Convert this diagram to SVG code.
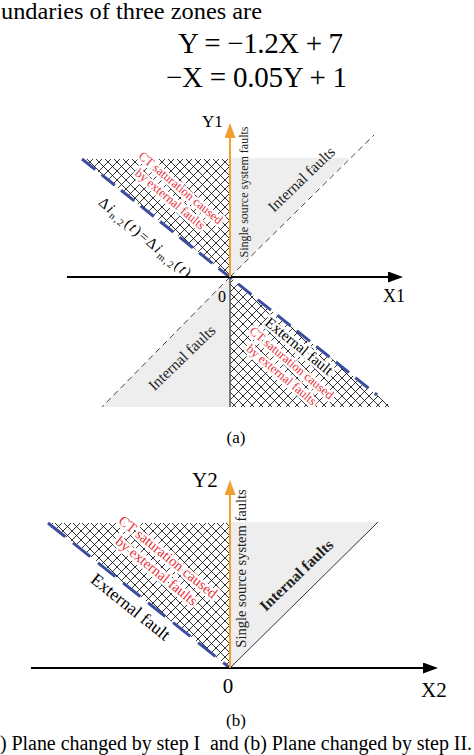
<svg xmlns="http://www.w3.org/2000/svg" width="474" height="755" viewBox="0 0 474 755">
<style>
text{font-family:"Liberation Serif","Times New Roman",serif;fill:#000}
.red{fill:#e8323c}
.dark{fill:#222}
.halo{stroke:#fff;stroke-width:5;stroke-linejoin:round;paint-order:stroke}
.ax{stroke:#000;stroke-width:2;fill:none}
.oy{stroke:#f0a030;stroke-width:2;fill:none}
.blueA{stroke:#3a4d9e;stroke-width:3;fill:none;stroke-dasharray:17 8}
.blueB{stroke:#3a4d9e;stroke-width:3;fill:none;stroke-dasharray:22 10}
.shade{fill:#eeeeee}
.gd{stroke:#444;stroke-width:1;stroke-dasharray:6 4;fill:none}
.hatch{fill:url(#hatch)}
</style>
<defs>
<pattern id="hatch" width="9" height="9" patternUnits="userSpaceOnUse">
<path d="M0,0L9,9M9,0L0,9" stroke="#000" stroke-width="0.8"/>
</pattern>
<marker id="arrK" viewBox="0 0 15 11" refX="1" refY="5.5" markerWidth="15" markerHeight="11" markerUnits="userSpaceOnUse" orient="auto">
<path d="M0,0L15,5.5L0,11Z" fill="#000"/>
</marker>
<marker id="arrO" viewBox="0 0 15 11" refX="1" refY="5.5" markerWidth="15" markerHeight="11" markerUnits="userSpaceOnUse" orient="auto">
<path d="M0,0L15,5.5L0,11Z" fill="#f0a030"/>
</marker>
</defs>
<rect width="474" height="755" fill="#fff"/>

<g id="header">
<text x="1" y="19" font-size="23" textLength="261" lengthAdjust="spacingAndGlyphs">undaries of three zones are</text>
<text x="178" y="53" font-size="29" textLength="165">Y = −1.2X + 7</text>
<text x="166" y="87" font-size="29" textLength="181">−X = 0.05Y + 1</text>
</g>

<g id="panel-a">
<path class="shade" d="M230,277L349,158L230,158Z"/>
<path class="shade" d="M230,277L102,407L230,407Z"/>
<path class="hatch" d="M82,159L230,159L230,277Z"/>
<path class="hatch" d="M230,277L392,407L230,407Z"/>
<path class="gd" d="M230,277L374,135M230,277L102,407"/>
<path d="M230,277L230,407" stroke="#555" stroke-width="1.5"/>
<text class="dark" transform="translate(248,192) rotate(-90)" text-anchor="middle" font-size="12">Single source system faults</text>
<text class="dark" transform="translate(305,183) rotate(-44)" text-anchor="middle" font-size="15.5">Internal faults</text>
<text class="dark" transform="translate(185.5,361.5) rotate(-44)" text-anchor="middle" font-size="15.5">Internal faults</text>
<text class="red halo" transform="translate(178,191) rotate(40)" text-anchor="middle" font-size="12.5">CT saturation caused</text>
<text class="red halo" transform="translate(167.6,202.3) rotate(40)" text-anchor="middle" font-size="12.5">by external faults</text>
<text transform="translate(142,241) rotate(40)" text-anchor="middle" font-size="15" textLength="116">Δ<tspan font-style="italic">i</tspan><tspan font-size="10" dy="3">n,2</tspan><tspan dy="-3">(</tspan><tspan font-style="italic">t</tspan>)=Δ<tspan font-style="italic">i</tspan><tspan font-size="10" dy="3">m,2</tspan><tspan dy="-3">(</tspan><tspan font-style="italic">t</tspan>)</text>
<text class="halo" transform="translate(296,350) rotate(39)" text-anchor="middle" font-size="15">External fault</text>
<text class="red halo" transform="translate(289,366) rotate(40)" text-anchor="middle" font-size="12.5">CT saturation caused</text>
<text class="red halo" transform="translate(279,378) rotate(40)" text-anchor="middle" font-size="12.5">by external faults</text>
<path class="blueA" d="M82,159L377,395"/>
<path class="ax" d="M67,277L389,277" marker-end="url(#arrK)"/>
<path class="oy" d="M230,277L230,137" marker-end="url(#arrO)"/>
<text x="202" y="127" font-size="17">Y1</text>
<text x="383" y="302" font-size="18">X1</text>
<text x="222" y="302" font-size="16" text-anchor="middle">0</text>
<text x="236" y="443" font-size="17" text-anchor="middle">(a)</text>
</g>

<g id="panel-b">
<path class="shade" d="M230,668L378,522L230,522Z"/>
<path class="hatch" d="M48,523L230,523L230,668Z"/>
<path d="M230,668L378,522" stroke="#333" stroke-width="1" fill="none"/>
<text class="dark" transform="translate(246,568.5) rotate(-90)" text-anchor="middle" font-size="14.5">Single source system faults</text>
<text class="dark" transform="translate(300,579) rotate(-44)" text-anchor="middle" font-size="15.5" font-weight="bold">Internal faults</text>
<text class="red halo" transform="translate(165,560.6) rotate(39)" text-anchor="middle" font-size="14.5">CT saturation caused</text>
<text class="red halo" transform="translate(153.5,574.6) rotate(39)" text-anchor="middle" font-size="14.5">by external faults</text>
<text transform="translate(127,611.4) rotate(38.5)" text-anchor="middle" font-size="17.5">External fault</text>
<path class="blueB" d="M48,523L230,668"/>
<path class="ax" d="M31,668L424,668" marker-end="url(#arrK)"/>
<path class="oy" d="M230,668L230,494" marker-end="url(#arrO)"/>
<text x="192" y="487" font-size="21">Y2</text>
<text x="421" y="697" font-size="21">X2</text>
<text x="228" y="693" font-size="21" text-anchor="middle">0</text>
<text x="236" y="726" font-size="17" text-anchor="middle">(b)</text>
</g>

<g id="caption">
<text x="0" y="750" font-size="20" textLength="472" xml:space="preserve">) Plane changed by step I  and (b) Plane changed by step II.</text>
</g>
</svg>
